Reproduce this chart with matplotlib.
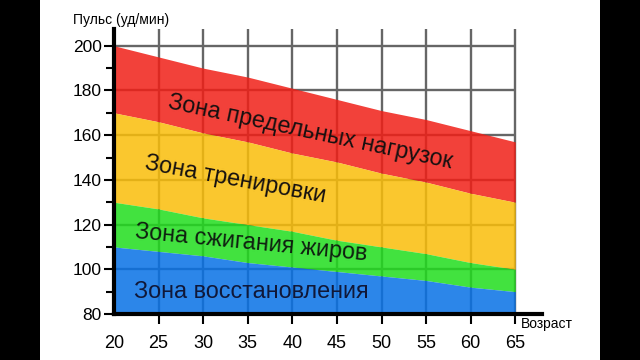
import matplotlib
matplotlib.use("Agg")
import matplotlib.pyplot as plt
from matplotlib.patches import Rectangle

ages = [20, 25, 30, 35, 40, 45, 50, 55, 60, 65]
max_top = [200, 195, 190, 186, 181, 176, 171, 167, 162, 157]
train_top = [170, 166, 161, 157, 152, 148, 143, 139, 134, 130]
burn_top = [130, 127, 123, 120, 117, 113, 110, 107, 103, 100]
recov_top = [110, 108, 106, 103, 101, 99, 97, 95, 92, 90]
floor = [80] * len(ages)

y_major = [80, 100, 120, 140, 160, 180, 200]
y_minor = [90, 110, 130, 150, 170, 190]
x_ticks = [20, 25, 30, 35, 40, 45, 50, 55, 60, 65]

zone_names = ["Зона предельных нагрузок", "Зона тренировки",
              "Зона сжигания жиров", "Зона восстановления"]

FONT = ["Liberation Sans", "DejaVu Sans"]
plt.rcParams['font.family'] = FONT

fig = plt.figure(figsize=(6.4, 3.6), dpi=100)
fig.patch.set_facecolor("black")
fig.add_artist(Rectangle((40/640, 0), 560/640, 1, transform=fig.transFigure,
                         facecolor="white", edgecolor="none", zorder=-10))

ax = fig.add_axes([114/640, 1 - 314/360, (542 - 114)/640, (314 - 29)/360])
ax.set_facecolor("white")
ax.set_xlim(20, 68)
ax.set_ylim(80, 207.5)

# grid (drawn beneath slightly translucent fills)
ax.vlines(x_ticks[1:], y_major[0], ax.get_ylim()[1], colors="#666666",
          lw=1.7, zorder=0.5)
ax.hlines(y_major[1:], x_ticks[0], x_ticks[-1], colors="#666666",
          lw=1.7, zorder=0.5)

red, yellow, green, blue = "#F01F17", "#FABE09", "#21DD1D", "#0771E6"
A = 0.85
ax.fill_between(ages, train_top, max_top, color=red, lw=0, alpha=A, zorder=1)
ax.fill_between(ages, burn_top, train_top, color=yellow, lw=0, alpha=A, zorder=1)
ax.fill_between(ages, recov_top, burn_top, color=green, lw=0, alpha=A, zorder=1)
ax.fill_between(ages, floor, recov_top, color=blue, lw=0, alpha=A, zorder=1)

for s in ["top", "right"]:
    ax.spines[s].set_visible(False)
for s in ["left", "bottom"]:
    ax.spines[s].set_linewidth(3)
    ax.spines[s].set_color("black")
    ax.spines[s].set_zorder(5)

ax.set_yticks(y_major)
ax.set_yticks(y_minor, minor=True)
ax.set_xticks(x_ticks)
ax.tick_params(axis="y", which="major", length=7, width=1.5, pad=2,
               labelsize=12.5)
ax.tick_params(axis="y", which="minor", length=6, width=1.5)
ax.tick_params(axis="x", length=7, width=1.5, pad=8, labelsize=13)
ax.get_xticklines()[0].set_visible(False)

ax.text(42.0, 161.6, zone_names[0], rotation=-12, rotation_mode="anchor",
        ha="center", va="center", fontsize=16.8, color="#151010", zorder=4)
ax.text(33.6, 140.2, zone_names[1], rotation=-10.5, rotation_mode="anchor",
        ha="center", va="center", fontsize=16.8, color="#151010", zorder=4)
ax.text(35.4, 111.8, zone_names[2], rotation=-5.5, rotation_mode="anchor",
        ha="center", va="center", fontsize=16.8, color="#0f1f10", zorder=4)
ax.text(35.4, 89.9, zone_names[3], rotation=0, rotation_mode="anchor",
        ha="center", va="center", fontsize=16.8, color="#101838", zorder=4)

fig.text(73/640, 1 - 20/360, "Пульс (уд/мин)", ha="left", va="center",
         fontsize=10, color="black")
fig.text(521/640, 1 - 324/360, "Возраст", ha="left", va="center",
         fontsize=10, color="black")

fig.savefig("out.png", dpi=100, facecolor=fig.get_facecolor())
